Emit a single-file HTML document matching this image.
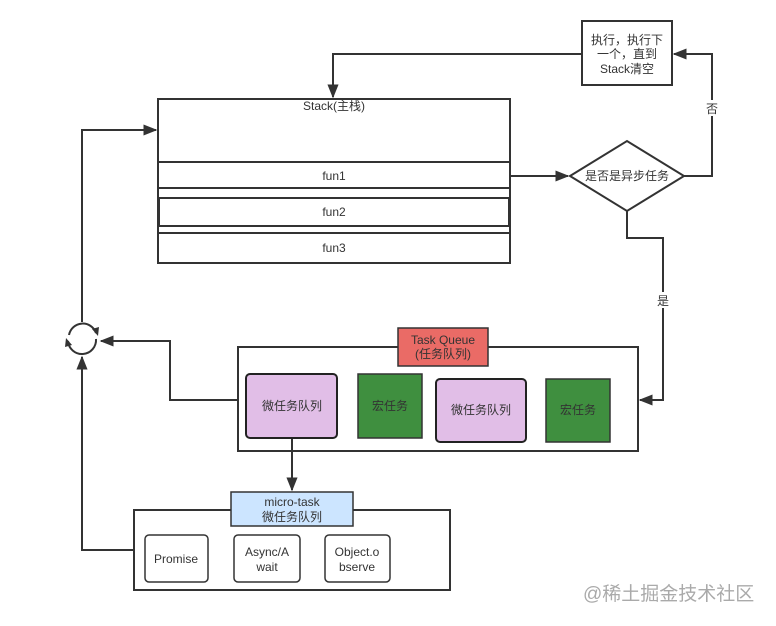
<!DOCTYPE html>
<html><head><meta charset="utf-8"><style>
body{margin:0;background:#fff}
svg text{font-family:"Liberation Sans","Noto Sans CJK SC",sans-serif;fill:#333;font-size:12px}
</style></head><body>
<svg width="776" height="621" viewBox="0 0 776 621" xmlns="http://www.w3.org/2000/svg">
<defs><marker id="a" viewBox="0 0 10 10" refX="9" refY="5" markerWidth="7" markerHeight="7" orient="auto"><path d="M0,1 L10,5 L0,9 Z" fill="#333"/></marker></defs>
<g fill="none" stroke="#333" stroke-width="2">
<rect x="158" y="99" width="352" height="164" fill="#fff"/>
<rect x="158" y="162" width="352" height="26"/>
<rect x="159" y="198" width="350" height="28"/>
<rect x="158" y="233" width="352" height="30"/>
<rect x="582" y="21" width="90" height="64" fill="#fff"/>
<polygon points="570,176 627,141 684,176 627,211" fill="#fff"/>
<polyline points="582,54 333,54 333,97" marker-end="url(#a)"/>
<polyline points="510,176 568,176" marker-end="url(#a)"/>
<polyline points="684,176 712,176 712,54 674,54" marker-end="url(#a)"/>
<polyline points="627,211 627,238 663,238 663,400 640,400" marker-end="url(#a)"/>
<rect x="238" y="347" width="400" height="104"/>
<rect x="134" y="510" width="316" height="80"/>
<polyline points="292,438 292,490" marker-end="url(#a)"/>
<polyline points="134,550 82,550 82,357" marker-end="url(#a)"/>
<polyline points="238,400 170,400 170,341 101,341" marker-end="url(#a)"/>
<polyline points="82,322 82,130 156,130" marker-end="url(#a)"/>
<path d="M69,335 A14,14 0 0 1 96,333"/><path d="M96,339 A14,14 0 0 1 68,341"/>
</g>
<path d="M92,329 L98,336 L99,327Z M72,345 L66,338 L65,347Z" fill="#333"/>
<rect x="398" y="328" width="90" height="38" fill="#ea6b66" stroke="#333" stroke-width="1.5"/>
<rect x="246" y="374" width="91" height="64" rx="4" fill="#e1bee7" stroke="#222" stroke-width="2"/>
<rect x="358" y="374" width="64" height="64" fill="#3f8f3f" stroke="#333" stroke-width="1.5"/>
<rect x="436" y="379" width="90" height="63" rx="4" fill="#e1bee7" stroke="#222" stroke-width="2"/>
<rect x="546" y="379" width="64" height="63" fill="#3f8f3f" stroke="#333" stroke-width="1.5"/>
<rect x="231" y="492" width="122" height="34" fill="#cce5ff" stroke="#333" stroke-width="1.5"/>
<g fill="#fff" stroke="#333" stroke-width="1.5">
<rect x="145" y="535" width="63" height="47" rx="4"/>
<rect x="234" y="535" width="66" height="47" rx="4"/>
<rect x="325" y="535" width="65" height="47" rx="4"/>
</g>
<g text-anchor="middle">
<text x="334" y="110">Stack(主栈)</text>
<text x="334" y="180">fun1</text>
<text x="334" y="216">fun2</text>
<text x="334" y="252">fun3</text>
<text x="627" y="44">执行，执行下</text>
<text x="627" y="58">一个，直到</text>
<text x="627" y="73">Stack清空</text>
<text x="627" y="180">是否是异步任务</text>
<rect x="705" y="100" width="14" height="16" fill="#fff"/>
<text x="712" y="113">否</text>
<rect x="656" y="292" width="14" height="16" fill="#fff"/>
<text x="663" y="305">是</text>
<text x="443" y="344">Task Queue</text>
<text x="443" y="358">(任务队列)</text>
<text x="292" y="410">微任务队列</text>
<text x="390" y="410">宏任务</text>
<text x="481" y="414">微任务队列</text>
<text x="578" y="414">宏任务</text>
<text x="292" y="506">micro-task</text>
<text x="292" y="521">微任务队列</text>
<text x="176" y="563">Promise</text>
<text x="267" y="556">Async/A</text>
<text x="267" y="571">wait</text>
<text x="357" y="556">Object.o</text>
<text x="357" y="571">bserve</text>
</g>
<text x="583" y="600" style="font-size:19px;fill:#aaa">@稀土掘金技术社区</text>
</svg>
</body></html>
